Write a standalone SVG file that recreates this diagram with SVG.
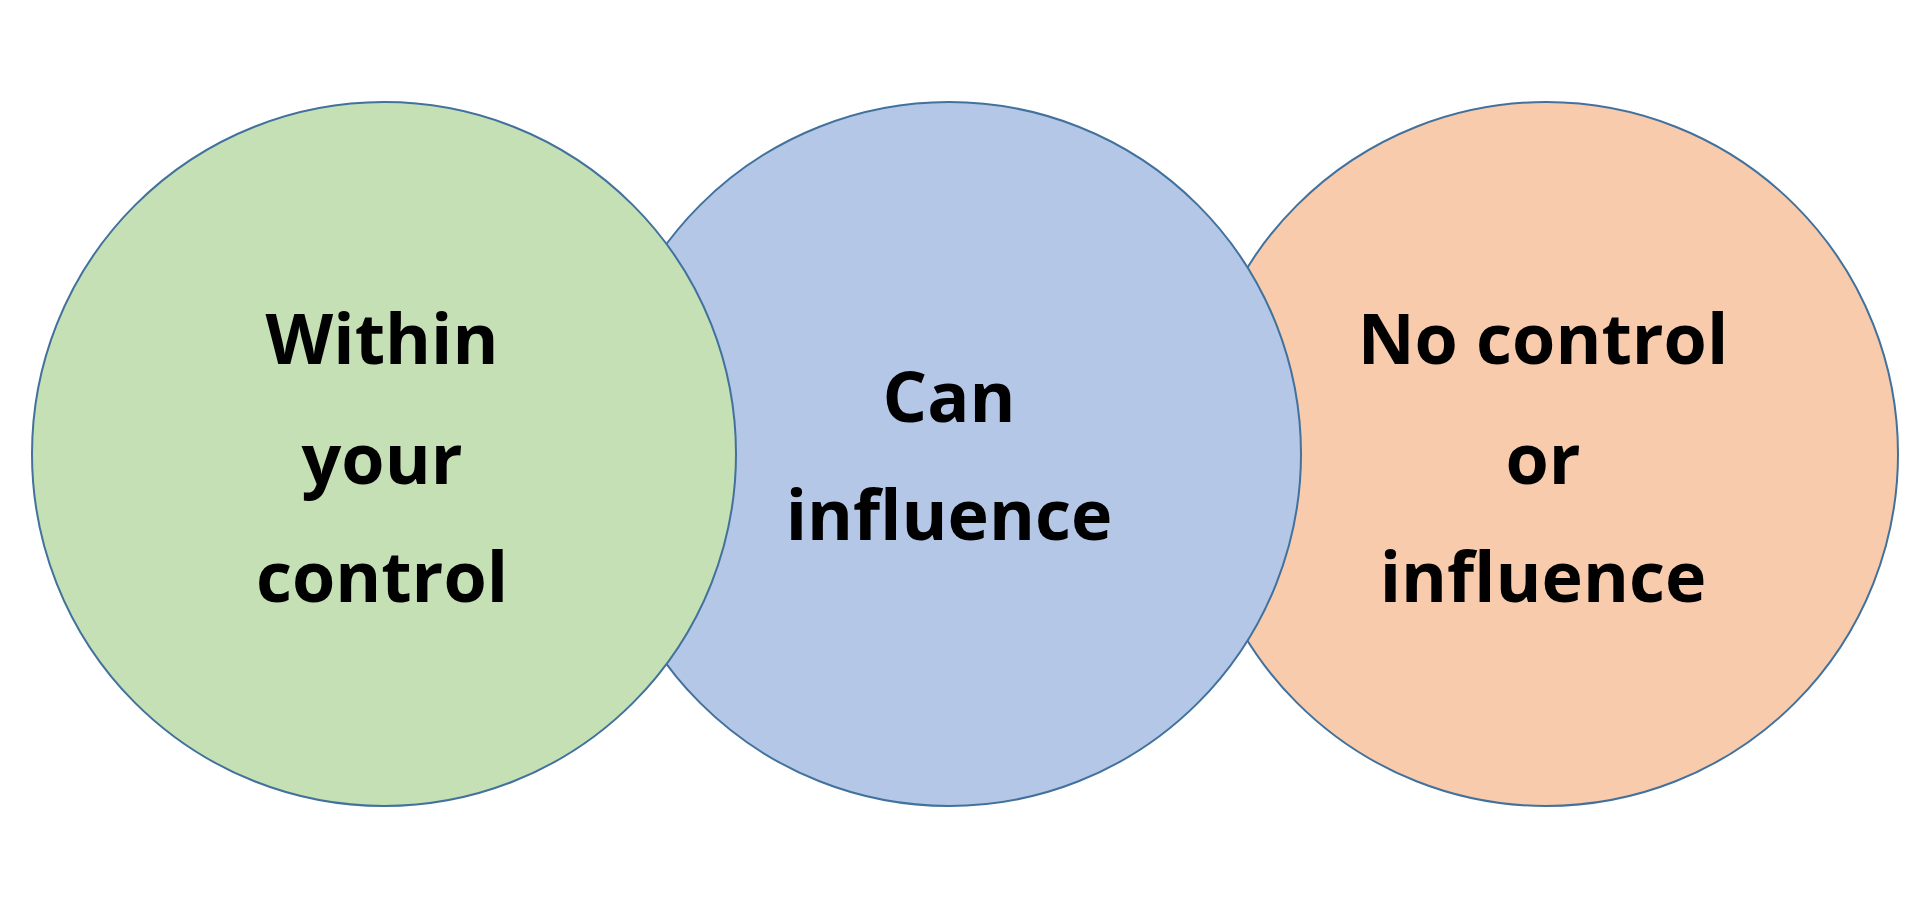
<svg xmlns="http://www.w3.org/2000/svg" width="1912" height="917" viewBox="0 0 1912 917">
<style>
.c{stroke:#41719C;stroke-width:2}
.t{font-family:"Open Sans","Liberation Sans",sans-serif;font-weight:bold;font-size:70px;fill:#000;text-anchor:middle}
</style>
<rect width="1912" height="917" fill="#fff"/>
<g id="orange"><circle class="c" cx="1546" cy="454" r="352" fill="#F8CBAD"/>
<text class="t" x="1543" y="364">No control</text><text class="t" x="1543" y="484">or</text><text class="t" x="1543" y="602">influence</text></g>
<g id="blue"><circle class="c" cx="949" cy="454" r="352" fill="#B4C7E7"/>
<text class="t" x="949" y="422">Can</text><text class="t" x="949" y="540">influence</text></g>
<g id="green"><circle class="c" cx="384" cy="454" r="352" fill="#C5E0B4"/>
<text class="t" x="382" y="364">Within</text><text class="t" x="382" y="484">your</text><text class="t" x="382" y="602">control</text></g>
<g id="connectors"/>
</svg>
